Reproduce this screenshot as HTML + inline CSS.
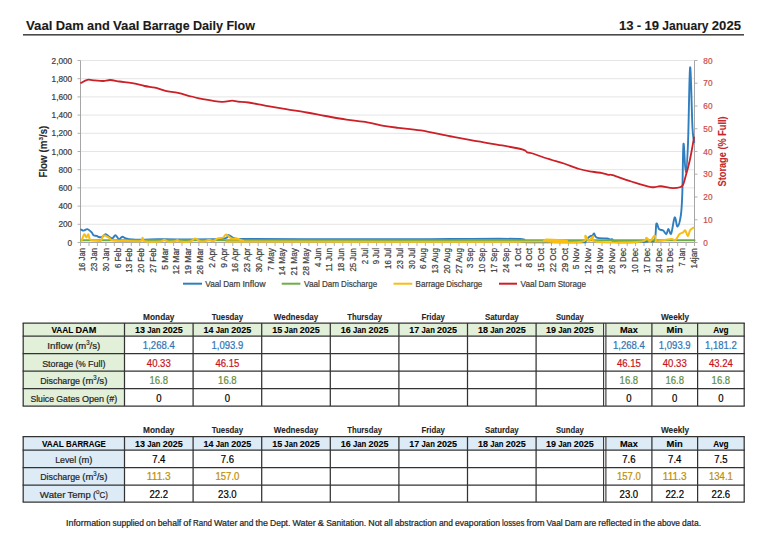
<!DOCTYPE html>
<html><head><meta charset="utf-8"><style>
html,body{margin:0;padding:0;background:#fff;}
body{width:768px;height:546px;overflow:hidden;}
svg{display:block;font-family:"Liberation Sans",sans-serif;}
</style></head><body>
<svg width="768" height="546" viewBox="0 0 768 546">
<rect width="768" height="546" fill="#fff"/>
<text x="26.00" y="30.00" font-size="13.08" font-weight="bold" fill="#1a1a1a" stroke="#1a1a1a" stroke-width="0.1" text-anchor="start" textLength="26.42" lengthAdjust="spacingAndGlyphs">Vaal</text>
<text x="55.69" y="30.00" font-size="13.08" font-weight="bold" fill="#1a1a1a" stroke="#1a1a1a" stroke-width="0.1" text-anchor="start" textLength="28.09" lengthAdjust="spacingAndGlyphs">Dam</text>
<text x="87.05" y="30.00" font-size="13.08" font-weight="bold" fill="#1a1a1a" stroke="#1a1a1a" stroke-width="0.1" text-anchor="start" textLength="22.69" lengthAdjust="spacingAndGlyphs">and</text>
<text x="113.01" y="30.00" font-size="13.08" font-weight="bold" fill="#1a1a1a" stroke="#1a1a1a" stroke-width="0.1" text-anchor="start" textLength="26.42" lengthAdjust="spacingAndGlyphs">Vaal</text>
<text x="142.70" y="30.00" font-size="13.08" font-weight="bold" fill="#1a1a1a" stroke="#1a1a1a" stroke-width="0.1" text-anchor="start" textLength="46.91" lengthAdjust="spacingAndGlyphs">Barrage</text>
<text x="192.88" y="30.00" font-size="13.08" font-weight="bold" fill="#1a1a1a" stroke="#1a1a1a" stroke-width="0.1" text-anchor="start" textLength="30.25" lengthAdjust="spacingAndGlyphs">Daily</text>
<text x="226.40" y="30.00" font-size="13.08" font-weight="bold" fill="#1a1a1a" stroke="#1a1a1a" stroke-width="0.1" text-anchor="start" textLength="28.54" lengthAdjust="spacingAndGlyphs">Flow</text>
<text x="618.97" y="30.00" font-size="13.08" font-weight="bold" fill="#1a1a1a" stroke="#1a1a1a" stroke-width="0.1" text-anchor="start" textLength="14.60" lengthAdjust="spacingAndGlyphs">13</text>
<text x="636.83" y="30.00" font-size="13.08" font-weight="bold" fill="#1a1a1a" stroke="#1a1a1a" stroke-width="0.1" text-anchor="start" textLength="4.41" lengthAdjust="spacingAndGlyphs">-</text>
<text x="644.49" y="30.00" font-size="13.08" font-weight="bold" fill="#1a1a1a" stroke="#1a1a1a" stroke-width="0.1" text-anchor="start" textLength="14.60" lengthAdjust="spacingAndGlyphs">19</text>
<text x="662.34" y="30.00" font-size="13.08" font-weight="bold" fill="#1a1a1a" stroke="#1a1a1a" stroke-width="0.1" text-anchor="start" textLength="46.21" lengthAdjust="spacingAndGlyphs">January</text>
<text x="711.81" y="30.00" font-size="13.08" font-weight="bold" fill="#1a1a1a" stroke="#1a1a1a" stroke-width="0.1" text-anchor="start" textLength="29.19" lengthAdjust="spacingAndGlyphs">2025</text>
<rect x="23" y="34" width="721" height="1.6" fill="#4a4a4a"/>
<line x1="80.5" y1="224.3" x2="694.5" y2="224.3" stroke="#e2e2e2" stroke-width="0.9"/>
<line x1="80.5" y1="206.1" x2="694.5" y2="206.1" stroke="#e2e2e2" stroke-width="0.9"/>
<line x1="80.5" y1="187.9" x2="694.5" y2="187.9" stroke="#e2e2e2" stroke-width="0.9"/>
<line x1="80.5" y1="169.7" x2="694.5" y2="169.7" stroke="#e2e2e2" stroke-width="0.9"/>
<line x1="80.5" y1="151.5" x2="694.5" y2="151.5" stroke="#e2e2e2" stroke-width="0.9"/>
<line x1="80.5" y1="133.3" x2="694.5" y2="133.3" stroke="#e2e2e2" stroke-width="0.9"/>
<line x1="80.5" y1="115.1" x2="694.5" y2="115.1" stroke="#e2e2e2" stroke-width="0.9"/>
<line x1="80.5" y1="96.9" x2="694.5" y2="96.9" stroke="#e2e2e2" stroke-width="0.9"/>
<line x1="80.5" y1="78.7" x2="694.5" y2="78.7" stroke="#e2e2e2" stroke-width="0.9"/>
<line x1="80.5" y1="60.5" x2="694.5" y2="60.5" stroke="#e2e2e2" stroke-width="0.9"/>
<line x1="80.5" y1="60.5" x2="80.5" y2="242.5" stroke="#a6a6a6" stroke-width="1"/>
<line x1="694.5" y1="60.5" x2="694.5" y2="242.5" stroke="#a6a6a6" stroke-width="1"/>
<line x1="80.5" y1="242.5" x2="694.5" y2="242.5" stroke="#a6a6a6" stroke-width="1"/>
<line x1="77.5" y1="242.5" x2="80.5" y2="242.5" stroke="#a6a6a6" stroke-width="0.9"/>
<text x="72.20" y="245.50" font-size="8.72" font-weight="normal" fill="#404040" stroke="#404040" stroke-width="0.22" text-anchor="end" textLength="4.59" lengthAdjust="spacingAndGlyphs">0</text>
<line x1="77.5" y1="224.3" x2="80.5" y2="224.3" stroke="#a6a6a6" stroke-width="0.9"/>
<text x="72.20" y="227.30" font-size="8.72" font-weight="normal" fill="#404040" stroke="#404040" stroke-width="0.22" text-anchor="end" textLength="13.76" lengthAdjust="spacingAndGlyphs">200</text>
<line x1="77.5" y1="206.1" x2="80.5" y2="206.1" stroke="#a6a6a6" stroke-width="0.9"/>
<text x="72.20" y="209.10" font-size="8.72" font-weight="normal" fill="#404040" stroke="#404040" stroke-width="0.22" text-anchor="end" textLength="13.76" lengthAdjust="spacingAndGlyphs">400</text>
<line x1="77.5" y1="187.9" x2="80.5" y2="187.9" stroke="#a6a6a6" stroke-width="0.9"/>
<text x="72.20" y="190.90" font-size="8.72" font-weight="normal" fill="#404040" stroke="#404040" stroke-width="0.22" text-anchor="end" textLength="13.76" lengthAdjust="spacingAndGlyphs">600</text>
<line x1="77.5" y1="169.7" x2="80.5" y2="169.7" stroke="#a6a6a6" stroke-width="0.9"/>
<text x="72.20" y="172.70" font-size="8.72" font-weight="normal" fill="#404040" stroke="#404040" stroke-width="0.22" text-anchor="end" textLength="13.76" lengthAdjust="spacingAndGlyphs">800</text>
<line x1="77.5" y1="151.5" x2="80.5" y2="151.5" stroke="#a6a6a6" stroke-width="0.9"/>
<text x="72.20" y="154.50" font-size="8.72" font-weight="normal" fill="#404040" stroke="#404040" stroke-width="0.22" text-anchor="end" textLength="20.61" lengthAdjust="spacingAndGlyphs">1,000</text>
<line x1="77.5" y1="133.3" x2="80.5" y2="133.3" stroke="#a6a6a6" stroke-width="0.9"/>
<text x="72.20" y="136.30" font-size="8.72" font-weight="normal" fill="#404040" stroke="#404040" stroke-width="0.22" text-anchor="end" textLength="20.61" lengthAdjust="spacingAndGlyphs">1,200</text>
<line x1="77.5" y1="115.1" x2="80.5" y2="115.1" stroke="#a6a6a6" stroke-width="0.9"/>
<text x="72.20" y="118.10" font-size="8.72" font-weight="normal" fill="#404040" stroke="#404040" stroke-width="0.22" text-anchor="end" textLength="20.61" lengthAdjust="spacingAndGlyphs">1,400</text>
<line x1="77.5" y1="96.9" x2="80.5" y2="96.9" stroke="#a6a6a6" stroke-width="0.9"/>
<text x="72.20" y="99.90" font-size="8.72" font-weight="normal" fill="#404040" stroke="#404040" stroke-width="0.22" text-anchor="end" textLength="20.61" lengthAdjust="spacingAndGlyphs">1,600</text>
<line x1="77.5" y1="78.7" x2="80.5" y2="78.7" stroke="#a6a6a6" stroke-width="0.9"/>
<text x="72.20" y="81.70" font-size="8.72" font-weight="normal" fill="#404040" stroke="#404040" stroke-width="0.22" text-anchor="end" textLength="20.61" lengthAdjust="spacingAndGlyphs">1,800</text>
<line x1="77.5" y1="60.5" x2="80.5" y2="60.5" stroke="#a6a6a6" stroke-width="0.9"/>
<text x="72.20" y="63.50" font-size="8.72" font-weight="normal" fill="#404040" stroke="#404040" stroke-width="0.22" text-anchor="end" textLength="20.61" lengthAdjust="spacingAndGlyphs">2,000</text>
<line x1="694.5" y1="242.5" x2="697.5" y2="242.5" stroke="#a6a6a6" stroke-width="0.9"/>
<text x="703.30" y="245.50" font-size="8.72" font-weight="normal" fill="#cc4d4d" stroke="#cc4d4d" stroke-width="0.22" text-anchor="start" textLength="4.59" lengthAdjust="spacingAndGlyphs">0</text>
<line x1="694.5" y1="219.8" x2="697.5" y2="219.8" stroke="#a6a6a6" stroke-width="0.9"/>
<text x="703.30" y="222.75" font-size="8.72" font-weight="normal" fill="#cc4d4d" stroke="#cc4d4d" stroke-width="0.22" text-anchor="start" textLength="9.17" lengthAdjust="spacingAndGlyphs">10</text>
<line x1="694.5" y1="197.0" x2="697.5" y2="197.0" stroke="#a6a6a6" stroke-width="0.9"/>
<text x="703.30" y="200.00" font-size="8.72" font-weight="normal" fill="#cc4d4d" stroke="#cc4d4d" stroke-width="0.22" text-anchor="start" textLength="9.17" lengthAdjust="spacingAndGlyphs">20</text>
<line x1="694.5" y1="174.2" x2="697.5" y2="174.2" stroke="#a6a6a6" stroke-width="0.9"/>
<text x="703.30" y="177.25" font-size="8.72" font-weight="normal" fill="#cc4d4d" stroke="#cc4d4d" stroke-width="0.22" text-anchor="start" textLength="9.17" lengthAdjust="spacingAndGlyphs">30</text>
<line x1="694.5" y1="151.5" x2="697.5" y2="151.5" stroke="#a6a6a6" stroke-width="0.9"/>
<text x="703.30" y="154.50" font-size="8.72" font-weight="normal" fill="#cc4d4d" stroke="#cc4d4d" stroke-width="0.22" text-anchor="start" textLength="9.17" lengthAdjust="spacingAndGlyphs">40</text>
<line x1="694.5" y1="128.8" x2="697.5" y2="128.8" stroke="#a6a6a6" stroke-width="0.9"/>
<text x="703.30" y="131.75" font-size="8.72" font-weight="normal" fill="#cc4d4d" stroke="#cc4d4d" stroke-width="0.22" text-anchor="start" textLength="9.17" lengthAdjust="spacingAndGlyphs">50</text>
<line x1="694.5" y1="106.0" x2="697.5" y2="106.0" stroke="#a6a6a6" stroke-width="0.9"/>
<text x="703.30" y="109.00" font-size="8.72" font-weight="normal" fill="#cc4d4d" stroke="#cc4d4d" stroke-width="0.22" text-anchor="start" textLength="9.17" lengthAdjust="spacingAndGlyphs">60</text>
<line x1="694.5" y1="83.2" x2="697.5" y2="83.2" stroke="#a6a6a6" stroke-width="0.9"/>
<text x="703.30" y="86.25" font-size="8.72" font-weight="normal" fill="#cc4d4d" stroke="#cc4d4d" stroke-width="0.22" text-anchor="start" textLength="9.17" lengthAdjust="spacingAndGlyphs">70</text>
<line x1="694.5" y1="60.5" x2="697.5" y2="60.5" stroke="#a6a6a6" stroke-width="0.9"/>
<text x="703.30" y="63.50" font-size="8.72" font-weight="normal" fill="#cc4d4d" stroke="#cc4d4d" stroke-width="0.22" text-anchor="start" textLength="9.17" lengthAdjust="spacingAndGlyphs">80</text>
<line x1="80.5" y1="242.5" x2="80.5" y2="246.0" stroke="#a6a6a6" stroke-width="0.9"/>
<line x1="89.0" y1="242.5" x2="89.0" y2="246.0" stroke="#a6a6a6" stroke-width="0.9"/>
<line x1="97.4" y1="242.5" x2="97.4" y2="246.0" stroke="#a6a6a6" stroke-width="0.9"/>
<line x1="105.9" y1="242.5" x2="105.9" y2="246.0" stroke="#a6a6a6" stroke-width="0.9"/>
<line x1="114.3" y1="242.5" x2="114.3" y2="246.0" stroke="#a6a6a6" stroke-width="0.9"/>
<line x1="122.8" y1="242.5" x2="122.8" y2="246.0" stroke="#a6a6a6" stroke-width="0.9"/>
<line x1="131.3" y1="242.5" x2="131.3" y2="246.0" stroke="#a6a6a6" stroke-width="0.9"/>
<line x1="139.7" y1="242.5" x2="139.7" y2="246.0" stroke="#a6a6a6" stroke-width="0.9"/>
<line x1="148.2" y1="242.5" x2="148.2" y2="246.0" stroke="#a6a6a6" stroke-width="0.9"/>
<line x1="156.6" y1="242.5" x2="156.6" y2="246.0" stroke="#a6a6a6" stroke-width="0.9"/>
<line x1="165.1" y1="242.5" x2="165.1" y2="246.0" stroke="#a6a6a6" stroke-width="0.9"/>
<line x1="173.6" y1="242.5" x2="173.6" y2="246.0" stroke="#a6a6a6" stroke-width="0.9"/>
<line x1="182.0" y1="242.5" x2="182.0" y2="246.0" stroke="#a6a6a6" stroke-width="0.9"/>
<line x1="190.5" y1="242.5" x2="190.5" y2="246.0" stroke="#a6a6a6" stroke-width="0.9"/>
<line x1="198.9" y1="242.5" x2="198.9" y2="246.0" stroke="#a6a6a6" stroke-width="0.9"/>
<line x1="207.4" y1="242.5" x2="207.4" y2="246.0" stroke="#a6a6a6" stroke-width="0.9"/>
<line x1="215.9" y1="242.5" x2="215.9" y2="246.0" stroke="#a6a6a6" stroke-width="0.9"/>
<line x1="224.3" y1="242.5" x2="224.3" y2="246.0" stroke="#a6a6a6" stroke-width="0.9"/>
<line x1="232.8" y1="242.5" x2="232.8" y2="246.0" stroke="#a6a6a6" stroke-width="0.9"/>
<line x1="241.2" y1="242.5" x2="241.2" y2="246.0" stroke="#a6a6a6" stroke-width="0.9"/>
<line x1="249.7" y1="242.5" x2="249.7" y2="246.0" stroke="#a6a6a6" stroke-width="0.9"/>
<line x1="258.2" y1="242.5" x2="258.2" y2="246.0" stroke="#a6a6a6" stroke-width="0.9"/>
<line x1="266.6" y1="242.5" x2="266.6" y2="246.0" stroke="#a6a6a6" stroke-width="0.9"/>
<line x1="275.1" y1="242.5" x2="275.1" y2="246.0" stroke="#a6a6a6" stroke-width="0.9"/>
<line x1="283.5" y1="242.5" x2="283.5" y2="246.0" stroke="#a6a6a6" stroke-width="0.9"/>
<line x1="292.0" y1="242.5" x2="292.0" y2="246.0" stroke="#a6a6a6" stroke-width="0.9"/>
<line x1="300.5" y1="242.5" x2="300.5" y2="246.0" stroke="#a6a6a6" stroke-width="0.9"/>
<line x1="308.9" y1="242.5" x2="308.9" y2="246.0" stroke="#a6a6a6" stroke-width="0.9"/>
<line x1="317.4" y1="242.5" x2="317.4" y2="246.0" stroke="#a6a6a6" stroke-width="0.9"/>
<line x1="325.8" y1="242.5" x2="325.8" y2="246.0" stroke="#a6a6a6" stroke-width="0.9"/>
<line x1="334.3" y1="242.5" x2="334.3" y2="246.0" stroke="#a6a6a6" stroke-width="0.9"/>
<line x1="342.8" y1="242.5" x2="342.8" y2="246.0" stroke="#a6a6a6" stroke-width="0.9"/>
<line x1="351.2" y1="242.5" x2="351.2" y2="246.0" stroke="#a6a6a6" stroke-width="0.9"/>
<line x1="359.7" y1="242.5" x2="359.7" y2="246.0" stroke="#a6a6a6" stroke-width="0.9"/>
<line x1="368.1" y1="242.5" x2="368.1" y2="246.0" stroke="#a6a6a6" stroke-width="0.9"/>
<line x1="376.6" y1="242.5" x2="376.6" y2="246.0" stroke="#a6a6a6" stroke-width="0.9"/>
<line x1="385.1" y1="242.5" x2="385.1" y2="246.0" stroke="#a6a6a6" stroke-width="0.9"/>
<line x1="694.5" y1="242.5" x2="694.5" y2="246.0" stroke="#a6a6a6" stroke-width="0.9"/>
<line x1="686.1" y1="242.5" x2="686.1" y2="246.0" stroke="#a6a6a6" stroke-width="0.9"/>
<line x1="677.7" y1="242.5" x2="677.7" y2="246.0" stroke="#a6a6a6" stroke-width="0.9"/>
<line x1="669.3" y1="242.5" x2="669.3" y2="246.0" stroke="#a6a6a6" stroke-width="0.9"/>
<line x1="660.9" y1="242.5" x2="660.9" y2="246.0" stroke="#a6a6a6" stroke-width="0.9"/>
<line x1="652.5" y1="242.5" x2="652.5" y2="246.0" stroke="#a6a6a6" stroke-width="0.9"/>
<line x1="644.0" y1="242.5" x2="644.0" y2="246.0" stroke="#a6a6a6" stroke-width="0.9"/>
<line x1="635.6" y1="242.5" x2="635.6" y2="246.0" stroke="#a6a6a6" stroke-width="0.9"/>
<line x1="627.2" y1="242.5" x2="627.2" y2="246.0" stroke="#a6a6a6" stroke-width="0.9"/>
<line x1="618.8" y1="242.5" x2="618.8" y2="246.0" stroke="#a6a6a6" stroke-width="0.9"/>
<line x1="610.4" y1="242.5" x2="610.4" y2="246.0" stroke="#a6a6a6" stroke-width="0.9"/>
<line x1="602.0" y1="242.5" x2="602.0" y2="246.0" stroke="#a6a6a6" stroke-width="0.9"/>
<line x1="593.6" y1="242.5" x2="593.6" y2="246.0" stroke="#a6a6a6" stroke-width="0.9"/>
<line x1="585.2" y1="242.5" x2="585.2" y2="246.0" stroke="#a6a6a6" stroke-width="0.9"/>
<line x1="576.8" y1="242.5" x2="576.8" y2="246.0" stroke="#a6a6a6" stroke-width="0.9"/>
<line x1="568.4" y1="242.5" x2="568.4" y2="246.0" stroke="#a6a6a6" stroke-width="0.9"/>
<line x1="559.9" y1="242.5" x2="559.9" y2="246.0" stroke="#a6a6a6" stroke-width="0.9"/>
<line x1="551.5" y1="242.5" x2="551.5" y2="246.0" stroke="#a6a6a6" stroke-width="0.9"/>
<line x1="543.1" y1="242.5" x2="543.1" y2="246.0" stroke="#a6a6a6" stroke-width="0.9"/>
<line x1="534.7" y1="242.5" x2="534.7" y2="246.0" stroke="#a6a6a6" stroke-width="0.9"/>
<line x1="526.3" y1="242.5" x2="526.3" y2="246.0" stroke="#a6a6a6" stroke-width="0.9"/>
<line x1="517.9" y1="242.5" x2="517.9" y2="246.0" stroke="#a6a6a6" stroke-width="0.9"/>
<line x1="509.5" y1="242.5" x2="509.5" y2="246.0" stroke="#a6a6a6" stroke-width="0.9"/>
<line x1="501.1" y1="242.5" x2="501.1" y2="246.0" stroke="#a6a6a6" stroke-width="0.9"/>
<line x1="492.7" y1="242.5" x2="492.7" y2="246.0" stroke="#a6a6a6" stroke-width="0.9"/>
<line x1="484.2" y1="242.5" x2="484.2" y2="246.0" stroke="#a6a6a6" stroke-width="0.9"/>
<line x1="475.8" y1="242.5" x2="475.8" y2="246.0" stroke="#a6a6a6" stroke-width="0.9"/>
<line x1="467.4" y1="242.5" x2="467.4" y2="246.0" stroke="#a6a6a6" stroke-width="0.9"/>
<line x1="459.0" y1="242.5" x2="459.0" y2="246.0" stroke="#a6a6a6" stroke-width="0.9"/>
<line x1="450.6" y1="242.5" x2="450.6" y2="246.0" stroke="#a6a6a6" stroke-width="0.9"/>
<line x1="442.2" y1="242.5" x2="442.2" y2="246.0" stroke="#a6a6a6" stroke-width="0.9"/>
<line x1="433.8" y1="242.5" x2="433.8" y2="246.0" stroke="#a6a6a6" stroke-width="0.9"/>
<line x1="425.4" y1="242.5" x2="425.4" y2="246.0" stroke="#a6a6a6" stroke-width="0.9"/>
<line x1="417.0" y1="242.5" x2="417.0" y2="246.0" stroke="#a6a6a6" stroke-width="0.9"/>
<line x1="408.6" y1="242.5" x2="408.6" y2="246.0" stroke="#a6a6a6" stroke-width="0.9"/>
<line x1="400.1" y1="242.5" x2="400.1" y2="246.0" stroke="#a6a6a6" stroke-width="0.9"/>
<line x1="391.7" y1="242.5" x2="391.7" y2="246.0" stroke="#a6a6a6" stroke-width="0.9"/>
<g transform="translate(85.40,248) rotate(-90)">
<text x="0.00" y="0.00" font-size="8.72" font-weight="normal" fill="#404040" stroke="#404040" stroke-width="0.22" text-anchor="end" textLength="23.20" lengthAdjust="spacingAndGlyphs">16 Jan</text>
</g>
<g transform="translate(97.16,248) rotate(-90)">
<text x="0.00" y="0.00" font-size="8.72" font-weight="normal" fill="#404040" stroke="#404040" stroke-width="0.22" text-anchor="end" textLength="23.20" lengthAdjust="spacingAndGlyphs">23 Jan</text>
</g>
<g transform="translate(108.92,248) rotate(-90)">
<text x="0.00" y="0.00" font-size="8.72" font-weight="normal" fill="#404040" stroke="#404040" stroke-width="0.22" text-anchor="end" textLength="23.20" lengthAdjust="spacingAndGlyphs">30 Jan</text>
</g>
<g transform="translate(120.68,248) rotate(-90)">
<text x="0.00" y="0.00" font-size="8.72" font-weight="normal" fill="#404040" stroke="#404040" stroke-width="0.22" text-anchor="end" textLength="20.05" lengthAdjust="spacingAndGlyphs">6 Feb</text>
</g>
<g transform="translate(132.44,248) rotate(-90)">
<text x="0.00" y="0.00" font-size="8.72" font-weight="normal" fill="#404040" stroke="#404040" stroke-width="0.22" text-anchor="end" textLength="24.64" lengthAdjust="spacingAndGlyphs">13 Feb</text>
</g>
<g transform="translate(144.20,248) rotate(-90)">
<text x="0.00" y="0.00" font-size="8.72" font-weight="normal" fill="#404040" stroke="#404040" stroke-width="0.22" text-anchor="end" textLength="24.64" lengthAdjust="spacingAndGlyphs">20 Feb</text>
</g>
<g transform="translate(155.96,248) rotate(-90)">
<text x="0.00" y="0.00" font-size="8.72" font-weight="normal" fill="#404040" stroke="#404040" stroke-width="0.22" text-anchor="end" textLength="24.64" lengthAdjust="spacingAndGlyphs">27 Feb</text>
</g>
<g transform="translate(167.72,248) rotate(-90)">
<text x="0.00" y="0.00" font-size="8.72" font-weight="normal" fill="#404040" stroke="#404040" stroke-width="0.22" text-anchor="end" textLength="21.86" lengthAdjust="spacingAndGlyphs">5 Mar</text>
</g>
<g transform="translate(179.48,248) rotate(-90)">
<text x="0.00" y="0.00" font-size="8.72" font-weight="normal" fill="#404040" stroke="#404040" stroke-width="0.22" text-anchor="end" textLength="26.45" lengthAdjust="spacingAndGlyphs">12 Mar</text>
</g>
<g transform="translate(191.24,248) rotate(-90)">
<text x="0.00" y="0.00" font-size="8.72" font-weight="normal" fill="#404040" stroke="#404040" stroke-width="0.22" text-anchor="end" textLength="26.45" lengthAdjust="spacingAndGlyphs">19 Mar</text>
</g>
<g transform="translate(203.00,248) rotate(-90)">
<text x="0.00" y="0.00" font-size="8.72" font-weight="normal" fill="#404040" stroke="#404040" stroke-width="0.22" text-anchor="end" textLength="26.45" lengthAdjust="spacingAndGlyphs">26 Mar</text>
</g>
<g transform="translate(214.76,248) rotate(-90)">
<text x="0.00" y="0.00" font-size="8.72" font-weight="normal" fill="#404040" stroke="#404040" stroke-width="0.22" text-anchor="end" textLength="19.78" lengthAdjust="spacingAndGlyphs">2 Apr</text>
</g>
<g transform="translate(226.52,248) rotate(-90)">
<text x="0.00" y="0.00" font-size="8.72" font-weight="normal" fill="#404040" stroke="#404040" stroke-width="0.22" text-anchor="end" textLength="19.78" lengthAdjust="spacingAndGlyphs">9 Apr</text>
</g>
<g transform="translate(238.28,248) rotate(-90)">
<text x="0.00" y="0.00" font-size="8.72" font-weight="normal" fill="#404040" stroke="#404040" stroke-width="0.22" text-anchor="end" textLength="24.37" lengthAdjust="spacingAndGlyphs">16 Apr</text>
</g>
<g transform="translate(250.04,248) rotate(-90)">
<text x="0.00" y="0.00" font-size="8.72" font-weight="normal" fill="#404040" stroke="#404040" stroke-width="0.22" text-anchor="end" textLength="24.37" lengthAdjust="spacingAndGlyphs">23 Apr</text>
</g>
<g transform="translate(261.80,248) rotate(-90)">
<text x="0.00" y="0.00" font-size="8.72" font-weight="normal" fill="#404040" stroke="#404040" stroke-width="0.22" text-anchor="end" textLength="24.37" lengthAdjust="spacingAndGlyphs">30 Apr</text>
</g>
<g transform="translate(273.56,248) rotate(-90)">
<text x="0.00" y="0.00" font-size="8.72" font-weight="normal" fill="#404040" stroke="#404040" stroke-width="0.22" text-anchor="end" textLength="22.80" lengthAdjust="spacingAndGlyphs">7 May</text>
</g>
<g transform="translate(285.32,248) rotate(-90)">
<text x="0.00" y="0.00" font-size="8.72" font-weight="normal" fill="#404040" stroke="#404040" stroke-width="0.22" text-anchor="end" textLength="27.39" lengthAdjust="spacingAndGlyphs">14 May</text>
</g>
<g transform="translate(297.08,248) rotate(-90)">
<text x="0.00" y="0.00" font-size="8.72" font-weight="normal" fill="#404040" stroke="#404040" stroke-width="0.22" text-anchor="end" textLength="27.39" lengthAdjust="spacingAndGlyphs">21 May</text>
</g>
<g transform="translate(308.84,248) rotate(-90)">
<text x="0.00" y="0.00" font-size="8.72" font-weight="normal" fill="#404040" stroke="#404040" stroke-width="0.22" text-anchor="end" textLength="27.39" lengthAdjust="spacingAndGlyphs">28 May</text>
</g>
<g transform="translate(320.60,248) rotate(-90)">
<text x="0.00" y="0.00" font-size="8.72" font-weight="normal" fill="#404040" stroke="#404040" stroke-width="0.22" text-anchor="end" textLength="19.03" lengthAdjust="spacingAndGlyphs">4 Jun</text>
</g>
<g transform="translate(332.36,248) rotate(-90)">
<text x="0.00" y="0.00" font-size="8.72" font-weight="normal" fill="#404040" stroke="#404040" stroke-width="0.22" text-anchor="end" textLength="23.61" lengthAdjust="spacingAndGlyphs">11 Jun</text>
</g>
<g transform="translate(344.12,248) rotate(-90)">
<text x="0.00" y="0.00" font-size="8.72" font-weight="normal" fill="#404040" stroke="#404040" stroke-width="0.22" text-anchor="end" textLength="23.61" lengthAdjust="spacingAndGlyphs">18 Jun</text>
</g>
<g transform="translate(355.88,248) rotate(-90)">
<text x="0.00" y="0.00" font-size="8.72" font-weight="normal" fill="#404040" stroke="#404040" stroke-width="0.22" text-anchor="end" textLength="23.61" lengthAdjust="spacingAndGlyphs">25 Jun</text>
</g>
<g transform="translate(367.64,248) rotate(-90)">
<text x="0.00" y="0.00" font-size="8.72" font-weight="normal" fill="#404040" stroke="#404040" stroke-width="0.22" text-anchor="end" textLength="16.35" lengthAdjust="spacingAndGlyphs">2 Jul</text>
</g>
<g transform="translate(379.40,248) rotate(-90)">
<text x="0.00" y="0.00" font-size="8.72" font-weight="normal" fill="#404040" stroke="#404040" stroke-width="0.22" text-anchor="end" textLength="16.35" lengthAdjust="spacingAndGlyphs">9 Jul</text>
</g>
<g transform="translate(391.16,248) rotate(-90)">
<text x="0.00" y="0.00" font-size="8.72" font-weight="normal" fill="#404040" stroke="#404040" stroke-width="0.22" text-anchor="end" textLength="20.94" lengthAdjust="spacingAndGlyphs">16 Jul</text>
</g>
<g transform="translate(402.92,248) rotate(-90)">
<text x="0.00" y="0.00" font-size="8.72" font-weight="normal" fill="#404040" stroke="#404040" stroke-width="0.22" text-anchor="end" textLength="20.94" lengthAdjust="spacingAndGlyphs">23 Jul</text>
</g>
<g transform="translate(414.68,248) rotate(-90)">
<text x="0.00" y="0.00" font-size="8.72" font-weight="normal" fill="#404040" stroke="#404040" stroke-width="0.22" text-anchor="end" textLength="20.94" lengthAdjust="spacingAndGlyphs">30 Jul</text>
</g>
<g transform="translate(426.44,248) rotate(-90)">
<text x="0.00" y="0.00" font-size="8.72" font-weight="normal" fill="#404040" stroke="#404040" stroke-width="0.22" text-anchor="end" textLength="20.88" lengthAdjust="spacingAndGlyphs">6 Aug</text>
</g>
<g transform="translate(438.20,248) rotate(-90)">
<text x="0.00" y="0.00" font-size="8.72" font-weight="normal" fill="#404040" stroke="#404040" stroke-width="0.22" text-anchor="end" textLength="25.47" lengthAdjust="spacingAndGlyphs">13 Aug</text>
</g>
<g transform="translate(449.96,248) rotate(-90)">
<text x="0.00" y="0.00" font-size="8.72" font-weight="normal" fill="#404040" stroke="#404040" stroke-width="0.22" text-anchor="end" textLength="25.47" lengthAdjust="spacingAndGlyphs">20 Aug</text>
</g>
<g transform="translate(461.72,248) rotate(-90)">
<text x="0.00" y="0.00" font-size="8.72" font-weight="normal" fill="#404040" stroke="#404040" stroke-width="0.22" text-anchor="end" textLength="25.47" lengthAdjust="spacingAndGlyphs">27 Aug</text>
</g>
<g transform="translate(473.48,248) rotate(-90)">
<text x="0.00" y="0.00" font-size="8.72" font-weight="normal" fill="#404040" stroke="#404040" stroke-width="0.22" text-anchor="end" textLength="20.05" lengthAdjust="spacingAndGlyphs">3 Sep</text>
</g>
<g transform="translate(485.24,248) rotate(-90)">
<text x="0.00" y="0.00" font-size="8.72" font-weight="normal" fill="#404040" stroke="#404040" stroke-width="0.22" text-anchor="end" textLength="24.64" lengthAdjust="spacingAndGlyphs">10 Sep</text>
</g>
<g transform="translate(497.00,248) rotate(-90)">
<text x="0.00" y="0.00" font-size="8.72" font-weight="normal" fill="#404040" stroke="#404040" stroke-width="0.22" text-anchor="end" textLength="24.64" lengthAdjust="spacingAndGlyphs">17 Sep</text>
</g>
<g transform="translate(508.76,248) rotate(-90)">
<text x="0.00" y="0.00" font-size="8.72" font-weight="normal" fill="#404040" stroke="#404040" stroke-width="0.22" text-anchor="end" textLength="24.64" lengthAdjust="spacingAndGlyphs">24 Sep</text>
</g>
<g transform="translate(520.52,248) rotate(-90)">
<text x="0.00" y="0.00" font-size="8.72" font-weight="normal" fill="#404040" stroke="#404040" stroke-width="0.22" text-anchor="end" textLength="19.48" lengthAdjust="spacingAndGlyphs">1 Oct</text>
</g>
<g transform="translate(532.28,248) rotate(-90)">
<text x="0.00" y="0.00" font-size="8.72" font-weight="normal" fill="#404040" stroke="#404040" stroke-width="0.22" text-anchor="end" textLength="19.48" lengthAdjust="spacingAndGlyphs">8 Oct</text>
</g>
<g transform="translate(544.04,248) rotate(-90)">
<text x="0.00" y="0.00" font-size="8.72" font-weight="normal" fill="#404040" stroke="#404040" stroke-width="0.22" text-anchor="end" textLength="24.07" lengthAdjust="spacingAndGlyphs">15 Oct</text>
</g>
<g transform="translate(555.80,248) rotate(-90)">
<text x="0.00" y="0.00" font-size="8.72" font-weight="normal" fill="#404040" stroke="#404040" stroke-width="0.22" text-anchor="end" textLength="24.07" lengthAdjust="spacingAndGlyphs">22 Oct</text>
</g>
<g transform="translate(567.56,248) rotate(-90)">
<text x="0.00" y="0.00" font-size="8.72" font-weight="normal" fill="#404040" stroke="#404040" stroke-width="0.22" text-anchor="end" textLength="24.07" lengthAdjust="spacingAndGlyphs">29 Oct</text>
</g>
<g transform="translate(579.32,248) rotate(-90)">
<text x="0.00" y="0.00" font-size="8.72" font-weight="normal" fill="#404040" stroke="#404040" stroke-width="0.22" text-anchor="end" textLength="21.33" lengthAdjust="spacingAndGlyphs">5 Nov</text>
</g>
<g transform="translate(591.08,248) rotate(-90)">
<text x="0.00" y="0.00" font-size="8.72" font-weight="normal" fill="#404040" stroke="#404040" stroke-width="0.22" text-anchor="end" textLength="25.92" lengthAdjust="spacingAndGlyphs">12 Nov</text>
</g>
<g transform="translate(602.84,248) rotate(-90)">
<text x="0.00" y="0.00" font-size="8.72" font-weight="normal" fill="#404040" stroke="#404040" stroke-width="0.22" text-anchor="end" textLength="25.92" lengthAdjust="spacingAndGlyphs">19 Nov</text>
</g>
<g transform="translate(614.60,248) rotate(-90)">
<text x="0.00" y="0.00" font-size="8.72" font-weight="normal" fill="#404040" stroke="#404040" stroke-width="0.22" text-anchor="end" textLength="25.92" lengthAdjust="spacingAndGlyphs">26 Nov</text>
</g>
<g transform="translate(626.36,248) rotate(-90)">
<text x="0.00" y="0.00" font-size="8.72" font-weight="normal" fill="#404040" stroke="#404040" stroke-width="0.22" text-anchor="end" textLength="20.53" lengthAdjust="spacingAndGlyphs">3 Dec</text>
</g>
<g transform="translate(638.12,248) rotate(-90)">
<text x="0.00" y="0.00" font-size="8.72" font-weight="normal" fill="#404040" stroke="#404040" stroke-width="0.22" text-anchor="end" textLength="25.12" lengthAdjust="spacingAndGlyphs">10 Dec</text>
</g>
<g transform="translate(649.88,248) rotate(-90)">
<text x="0.00" y="0.00" font-size="8.72" font-weight="normal" fill="#404040" stroke="#404040" stroke-width="0.22" text-anchor="end" textLength="25.12" lengthAdjust="spacingAndGlyphs">17 Dec</text>
</g>
<g transform="translate(661.64,248) rotate(-90)">
<text x="0.00" y="0.00" font-size="8.72" font-weight="normal" fill="#404040" stroke="#404040" stroke-width="0.22" text-anchor="end" textLength="25.12" lengthAdjust="spacingAndGlyphs">24 Dec</text>
</g>
<g transform="translate(673.40,248) rotate(-90)">
<text x="0.00" y="0.00" font-size="8.72" font-weight="normal" fill="#404040" stroke="#404040" stroke-width="0.22" text-anchor="end" textLength="25.12" lengthAdjust="spacingAndGlyphs">31 Dec</text>
</g>
<g transform="translate(685.16,248) rotate(-90)">
<text x="0.00" y="0.00" font-size="8.72" font-weight="normal" fill="#404040" stroke="#404040" stroke-width="0.22" text-anchor="end" textLength="18.61" lengthAdjust="spacingAndGlyphs">7 Jan</text>
</g>
<g transform="translate(696.92,248) rotate(-90)">
<text x="0.00" y="0.00" font-size="8.72" font-weight="normal" fill="#404040" stroke="#404040" stroke-width="0.22" text-anchor="end" textLength="20.43" lengthAdjust="spacingAndGlyphs">14jan</text>
</g>
<g transform="translate(46.5,151.6) rotate(-90)">
<text x="-26.00" y="0.00" font-size="10.17" font-weight="bold" fill="#262626" stroke="#262626" stroke-width="0.1" text-anchor="start" textLength="37.03" lengthAdjust="spacingAndGlyphs">Flow (m</text>
<text x="11.03" y="-3.80" font-size="6.25" font-weight="bold" fill="#262626" stroke="#262626" stroke-width="0.1" text-anchor="start" textLength="3.53" lengthAdjust="spacingAndGlyphs">3</text>
<text x="14.56" y="0.00" font-size="10.17" font-weight="bold" fill="#262626" stroke="#262626" stroke-width="0.1" text-anchor="start" textLength="11.44" lengthAdjust="spacingAndGlyphs">/s)</text>
</g>
<g transform="translate(725.5,151.4) rotate(-90)">
<text x="0.00" y="0.00" font-size="10.17" font-weight="bold" fill="#c0282d" stroke="#c0282d" stroke-width="0.1" text-anchor="middle" textLength="70.00" lengthAdjust="spacingAndGlyphs">Storage (% Full)</text>
</g>
<path d="M81.10,229.60 C81.53,229.77 82.65,230.68 83.70,230.60 C84.75,230.52 86.10,228.83 87.40,229.10 C88.70,229.37 90.47,231.17 91.50,232.20 C92.53,233.23 92.72,234.70 93.60,235.30 C94.47,235.90 95.88,235.52 96.75,235.80 C97.62,236.08 97.92,236.80 98.80,237.00 C99.67,237.20 100.87,237.45 102.00,237.00 C103.13,236.55 104.39,234.32 105.60,234.30 C106.81,234.28 108.12,236.22 109.25,236.90 C110.38,237.58 111.36,238.67 112.40,238.40 C113.44,238.13 114.38,235.17 115.50,235.30 C116.62,235.43 117.97,238.97 119.10,239.20 C120.23,239.43 121.17,236.83 122.30,236.70 C123.43,236.57 124.25,237.93 125.90,238.40 C127.55,238.87 129.77,239.27 132.20,239.50 C134.63,239.73 136.20,239.83 140.50,239.80 C144.80,239.77 144.70,239.43 158.00,239.30 C171.30,239.17 208.63,239.73 220.30,239.00 C231.97,238.27 225.62,235.00 228.00,234.90 C230.38,234.80 230.93,237.72 234.60,238.40 C238.27,239.08 239.10,238.87 250.00,239.00 C260.90,239.13 275.00,239.17 300.00,239.20 C325.00,239.23 375.00,239.23 400.00,239.20 C425.00,239.17 430.00,239.03 450.00,239.00 C470.00,238.97 507.67,238.50 520.00,239.00 C532.33,239.50 514.00,241.47 524.00,242.00 C534.00,242.53 569.90,242.20 580.00,242.20 C590.10,242.20 583.27,242.70 584.60,242.00 C585.93,241.30 586.95,239.03 588.00,238.00 C589.05,236.97 590.18,236.05 590.90,235.80 C591.62,235.55 591.78,236.90 592.30,236.50 C592.82,236.10 593.27,233.20 594.00,233.40 C594.73,233.60 594.55,236.85 596.70,237.70 C598.85,238.55 604.68,238.20 606.90,238.50 C609.12,238.80 609.07,239.37 610.00,239.50 C610.93,239.63 611.67,238.88 612.50,239.30 C613.33,239.72 610.42,241.55 615.00,242.00 C619.58,242.45 634.43,242.13 640.00,242.00 C645.57,241.87 645.95,241.53 648.40,241.20 C650.85,240.87 653.37,242.92 654.70,240.00 C656.03,237.08 655.68,225.53 656.40,223.70 C657.12,221.87 657.87,227.85 659.00,229.00 C660.13,230.15 661.98,229.73 663.20,230.60 C664.42,231.47 665.43,234.47 666.30,234.20 C667.17,233.93 667.58,229.10 668.40,229.00 C669.22,228.90 670.15,235.53 671.20,233.60 C672.25,231.67 673.65,218.58 674.70,217.40 C675.75,216.22 676.47,226.90 677.50,226.50 C678.53,226.10 680.10,220.45 680.90,215.00 C681.70,209.55 681.87,205.65 682.30,193.80 C682.73,181.95 682.93,147.48 683.50,143.90 C684.07,140.32 684.95,172.32 685.70,172.30 C686.45,172.28 687.27,161.28 688.00,143.80 C688.73,126.32 689.35,70.03 690.10,67.40 C690.85,64.77 691.80,115.57 692.50,128.00 C693.20,140.43 694.00,139.67 694.30,142.00" fill="none" stroke="#2e7ec0" stroke-width="1.9" stroke-linejoin="round" stroke-linecap="round"/>
<polyline points="81.00,240.30 694.50,240.30" fill="none" stroke="#70ad47" stroke-width="2" stroke-linejoin="round" stroke-linecap="round"/>
<path d="M81.60,240.50 C82.04,239.47 83.47,234.82 84.25,234.30 C85.03,233.78 85.61,237.40 86.30,237.40 C86.99,237.40 87.78,233.95 88.40,234.30 C89.02,234.65 88.78,238.47 90.00,239.50 C91.22,240.53 93.88,240.28 95.70,240.50 C97.52,240.72 99.60,241.67 100.90,240.80 C102.20,239.93 102.11,235.78 103.50,235.30 C104.89,234.82 107.77,237.08 109.25,237.90 C110.73,238.72 109.78,239.68 112.40,240.20 C115.03,240.72 120.32,240.87 125.00,241.00 C129.68,241.13 137.57,241.55 140.50,241.00 C143.43,240.45 141.90,237.67 142.60,237.70 C143.30,237.73 141.80,240.57 144.70,241.20 C147.60,241.83 156.73,241.75 160.00,241.50 C163.27,241.25 162.97,239.70 164.30,239.70 C165.63,239.70 166.22,241.23 168.00,241.50 C169.78,241.77 173.45,241.55 175.00,241.30 C176.55,241.05 176.47,239.97 177.30,240.00 C178.13,240.03 177.88,241.25 180.00,241.50 C182.12,241.75 187.50,242.02 190.00,241.50 C192.50,240.98 193.33,238.45 195.00,238.40 C196.67,238.35 198.33,240.72 200.00,241.20 C201.67,241.68 203.47,241.55 205.00,241.30 C206.53,241.05 207.87,239.72 209.20,239.70 C210.53,239.68 211.58,241.42 213.00,241.20 C214.42,240.98 216.03,238.98 217.70,238.40 C219.37,237.82 221.58,238.35 223.00,237.70 C224.42,237.05 224.80,234.38 226.20,234.50 C227.60,234.62 229.35,237.65 231.40,238.40 C233.45,239.15 236.44,238.57 238.50,239.00 C240.56,239.43 241.83,240.57 243.75,241.00 C245.67,241.43 199.79,241.50 250.00,241.60 C300.21,241.70 495.72,241.95 545.00,241.60 C594.28,241.25 545.37,239.50 545.70,239.50 C546.03,239.50 540.95,241.22 547.00,241.60 C553.05,241.98 575.60,242.77 582.00,241.80 C588.40,240.83 584.23,235.93 585.40,235.80 C586.57,235.67 587.70,240.93 589.00,241.00 C590.30,241.07 591.95,236.07 593.20,236.20 C594.45,236.33 588.70,240.87 596.50,241.80 C604.30,242.73 631.67,242.48 640.00,241.80 C648.33,241.12 644.83,237.75 646.50,237.70 C648.17,237.65 648.63,241.88 650.00,241.50 C651.37,241.12 653.62,235.45 654.70,235.40 C655.78,235.35 654.95,240.43 656.50,241.20 C658.05,241.97 661.47,240.37 664.00,240.00 C666.53,239.63 669.78,239.00 671.70,239.00 C673.62,239.00 674.22,240.80 675.50,240.00 C676.78,239.20 678.12,235.48 679.40,234.20 C680.68,232.92 682.23,232.93 683.20,232.30 C684.17,231.67 684.40,229.75 685.20,230.40 C686.00,231.05 687.20,236.20 688.00,236.20 C688.80,236.20 689.03,231.85 690.00,230.40 C690.97,228.95 693.17,227.98 693.80,227.50" fill="none" stroke="#f8be10" stroke-width="2" stroke-linejoin="round" stroke-linecap="round"/>
<path d="M81.10,82.90 C82.15,82.38 85.13,80.22 87.40,79.80 C89.67,79.38 92.10,80.20 94.70,80.40 C97.30,80.60 100.40,81.07 103.00,81.00 C105.60,80.93 107.52,79.92 110.30,80.00 C113.08,80.08 116.05,80.98 119.70,81.50 C123.35,82.02 128.03,82.35 132.20,83.10 C136.37,83.85 140.90,85.23 144.70,86.00 C148.50,86.77 151.53,86.90 155.00,87.70 C158.47,88.50 161.67,89.93 165.50,90.80 C169.33,91.67 173.67,91.95 178.00,92.90 C182.33,93.85 187.33,95.45 191.50,96.50 C195.67,97.55 197.96,98.30 203.00,99.20 C208.04,100.10 216.92,101.67 221.75,101.90 C226.58,102.13 229.29,100.65 232.00,100.60 C234.71,100.55 235.27,101.28 238.00,101.60 C240.73,101.92 243.90,101.83 248.40,102.50 C252.90,103.17 258.73,104.48 265.00,105.60 C271.27,106.72 279.04,108.05 286.00,109.20 C292.96,110.35 300.17,111.37 306.75,112.50 C313.33,113.63 318.91,114.82 325.50,116.00 C332.09,117.18 339.35,118.55 346.30,119.60 C353.25,120.65 360.95,121.27 367.20,122.30 C373.45,123.33 378.67,124.88 383.80,125.80 C388.93,126.72 391.82,127.03 398.00,127.80 C404.18,128.57 412.23,128.99 420.90,130.40 C429.57,131.81 441.67,134.62 450.00,136.25 C458.33,137.88 462.20,138.67 470.90,140.20 C479.60,141.72 493.52,143.83 502.20,145.40 C510.88,146.97 518.83,148.45 523.00,149.60 C527.17,150.75 525.47,151.61 527.20,152.30 C528.93,152.99 530.63,152.88 533.40,153.75 C536.17,154.62 540.70,156.46 543.80,157.50 C546.90,158.54 548.52,158.96 552.00,160.00 C555.48,161.04 560.16,162.25 564.70,163.75 C569.24,165.25 574.74,167.68 579.25,169.00 C583.76,170.32 587.92,171.02 591.75,171.70 C595.58,172.38 599.43,172.58 602.20,173.10 C604.98,173.62 606.67,174.45 608.40,174.80 C610.13,175.15 608.78,174.08 612.60,175.20 C616.42,176.32 624.88,179.52 631.30,181.50 C637.72,183.48 646.23,186.31 651.10,187.10 C655.97,187.89 656.85,186.08 660.50,186.25 C664.15,186.42 669.42,188.11 673.00,188.10 C676.58,188.09 679.88,188.22 682.00,186.20 C684.12,184.18 684.40,180.33 685.70,176.00 C687.00,171.67 688.75,164.70 689.80,160.20 C690.85,155.70 691.30,152.78 692.00,149.00 C692.70,145.22 693.67,139.42 694.00,137.50" fill="none" stroke="#cc2027" stroke-width="1.8" stroke-linejoin="round" stroke-linecap="round"/>
<line x1="183" y1="283.7" x2="202" y2="283.7" stroke="#2e7ec0" stroke-width="2"/>
<text x="205.30" y="286.80" font-size="8.72" font-weight="normal" fill="#404040" stroke="#404040" stroke-width="0.22" text-anchor="start" textLength="15.88" lengthAdjust="spacingAndGlyphs">Vaal</text>
<text x="223.23" y="286.80" font-size="8.72" font-weight="normal" fill="#404040" stroke="#404040" stroke-width="0.22" text-anchor="start" textLength="17.13" lengthAdjust="spacingAndGlyphs">Dam</text>
<text x="242.41" y="286.80" font-size="8.72" font-weight="normal" fill="#404040" stroke="#404040" stroke-width="0.22" text-anchor="start" textLength="23.12" lengthAdjust="spacingAndGlyphs">Inflow</text>
<line x1="281.7" y1="283.7" x2="300.4" y2="283.7" stroke="#70ad47" stroke-width="2"/>
<text x="304.00" y="286.80" font-size="8.72" font-weight="normal" fill="#404040" stroke="#404040" stroke-width="0.22" text-anchor="start" textLength="15.88" lengthAdjust="spacingAndGlyphs">Vaal</text>
<text x="321.93" y="286.80" font-size="8.72" font-weight="normal" fill="#404040" stroke="#404040" stroke-width="0.22" text-anchor="start" textLength="17.13" lengthAdjust="spacingAndGlyphs">Dam</text>
<text x="341.11" y="286.80" font-size="8.72" font-weight="normal" fill="#404040" stroke="#404040" stroke-width="0.22" text-anchor="start" textLength="36.02" lengthAdjust="spacingAndGlyphs">Discharge</text>
<line x1="393.5" y1="283.7" x2="412.3" y2="283.7" stroke="#f8be10" stroke-width="2"/>
<text x="415.60" y="286.80" font-size="8.72" font-weight="normal" fill="#404040" stroke="#404040" stroke-width="0.22" text-anchor="start" textLength="28.67" lengthAdjust="spacingAndGlyphs">Barrage</text>
<text x="446.31" y="286.80" font-size="8.72" font-weight="normal" fill="#404040" stroke="#404040" stroke-width="0.22" text-anchor="start" textLength="36.02" lengthAdjust="spacingAndGlyphs">Discharge</text>
<line x1="499" y1="283.7" x2="517" y2="283.7" stroke="#cc2027" stroke-width="2"/>
<text x="520.60" y="286.80" font-size="8.72" font-weight="normal" fill="#404040" stroke="#404040" stroke-width="0.22" text-anchor="start" textLength="15.88" lengthAdjust="spacingAndGlyphs">Vaal</text>
<text x="538.53" y="286.80" font-size="8.72" font-weight="normal" fill="#404040" stroke="#404040" stroke-width="0.22" text-anchor="start" textLength="17.13" lengthAdjust="spacingAndGlyphs">Dam</text>
<text x="557.71" y="286.80" font-size="8.72" font-weight="normal" fill="#404040" stroke="#404040" stroke-width="0.22" text-anchor="start" textLength="28.21" lengthAdjust="spacingAndGlyphs">Storage</text>
<rect x="23.2" y="323" width="580.4" height="13" fill="#e2efd9"/>
<rect x="605.9" y="323" width="138.30000000000007" height="13" fill="#e2efd9"/>
<rect x="23.2" y="336" width="101.3" height="70" fill="#e2efd9"/>
<line x1="22.599999999999998" y1="323" x2="744.8000000000001" y2="323" stroke="#333" stroke-width="1.25"/>
<line x1="22.599999999999998" y1="336" x2="744.8000000000001" y2="336" stroke="#333" stroke-width="1.25"/>
<line x1="22.599999999999998" y1="353.5" x2="744.8000000000001" y2="353.5" stroke="#333" stroke-width="1.25"/>
<line x1="22.599999999999998" y1="371" x2="744.8000000000001" y2="371" stroke="#333" stroke-width="1.25"/>
<line x1="22.599999999999998" y1="388.5" x2="744.8000000000001" y2="388.5" stroke="#333" stroke-width="1.25"/>
<line x1="22.599999999999998" y1="406" x2="744.8000000000001" y2="406" stroke="#333" stroke-width="1.25"/>
<line x1="23.2" y1="323" x2="23.2" y2="406" stroke="#333" stroke-width="1.25"/>
<line x1="124.5" y1="323" x2="124.5" y2="406" stroke="#333" stroke-width="1.25"/>
<line x1="193.1" y1="323" x2="193.1" y2="406" stroke="#333" stroke-width="1.25"/>
<line x1="261.7" y1="323" x2="261.7" y2="406" stroke="#333" stroke-width="1.25"/>
<line x1="330.29999999999995" y1="323" x2="330.29999999999995" y2="406" stroke="#333" stroke-width="1.25"/>
<line x1="398.9" y1="323" x2="398.9" y2="406" stroke="#333" stroke-width="1.25"/>
<line x1="467.5" y1="323" x2="467.5" y2="406" stroke="#333" stroke-width="1.25"/>
<line x1="536.0999999999999" y1="323" x2="536.0999999999999" y2="406" stroke="#333" stroke-width="1.25"/>
<line x1="603.6" y1="323" x2="603.6" y2="406" stroke="#333" stroke-width="1.1"/>
<line x1="605.9" y1="323" x2="605.9" y2="406" stroke="#333" stroke-width="1.1"/>
<line x1="651.9" y1="323" x2="651.9" y2="406" stroke="#333" stroke-width="1.25"/>
<line x1="697.6" y1="323" x2="697.6" y2="406" stroke="#333" stroke-width="1.25"/>
<line x1="744.2" y1="323" x2="744.2" y2="406" stroke="#333" stroke-width="1.25"/>
<text x="143.12" y="319.60" font-size="8.58" font-weight="bold" fill="#262626" stroke="#262626" stroke-width="0.1" text-anchor="start" textLength="31.36" lengthAdjust="spacingAndGlyphs">Monday</text>
<text x="134.95" y="332.80" font-size="8.87" font-weight="bold" fill="#000" stroke="#000" stroke-width="0.1" text-anchor="start" textLength="9.98" lengthAdjust="spacingAndGlyphs">13</text>
<text x="147.16" y="332.80" font-size="8.87" font-weight="bold" fill="#000" stroke="#000" stroke-width="0.1" text-anchor="start" textLength="13.30" lengthAdjust="spacingAndGlyphs">Jan</text>
<text x="162.68" y="332.80" font-size="8.87" font-weight="bold" fill="#000" stroke="#000" stroke-width="0.1" text-anchor="start" textLength="19.97" lengthAdjust="spacingAndGlyphs">2025</text>
<text x="211.78" y="319.60" font-size="8.58" font-weight="bold" fill="#262626" stroke="#262626" stroke-width="0.1" text-anchor="start" textLength="31.25" lengthAdjust="spacingAndGlyphs">Tuesday</text>
<text x="203.55" y="332.80" font-size="8.87" font-weight="bold" fill="#000" stroke="#000" stroke-width="0.1" text-anchor="start" textLength="9.98" lengthAdjust="spacingAndGlyphs">14</text>
<text x="215.76" y="332.80" font-size="8.87" font-weight="bold" fill="#000" stroke="#000" stroke-width="0.1" text-anchor="start" textLength="13.30" lengthAdjust="spacingAndGlyphs">Jan</text>
<text x="231.28" y="332.80" font-size="8.87" font-weight="bold" fill="#000" stroke="#000" stroke-width="0.1" text-anchor="start" textLength="19.97" lengthAdjust="spacingAndGlyphs">2025</text>
<text x="273.80" y="319.60" font-size="8.58" font-weight="bold" fill="#262626" stroke="#262626" stroke-width="0.1" text-anchor="start" textLength="44.39" lengthAdjust="spacingAndGlyphs">Wednesday</text>
<text x="272.15" y="332.80" font-size="8.87" font-weight="bold" fill="#000" stroke="#000" stroke-width="0.1" text-anchor="start" textLength="9.98" lengthAdjust="spacingAndGlyphs">15</text>
<text x="284.36" y="332.80" font-size="8.87" font-weight="bold" fill="#000" stroke="#000" stroke-width="0.1" text-anchor="start" textLength="13.30" lengthAdjust="spacingAndGlyphs">Jan</text>
<text x="299.88" y="332.80" font-size="8.87" font-weight="bold" fill="#000" stroke="#000" stroke-width="0.1" text-anchor="start" textLength="19.97" lengthAdjust="spacingAndGlyphs">2025</text>
<text x="347.21" y="319.60" font-size="8.58" font-weight="bold" fill="#262626" stroke="#262626" stroke-width="0.1" text-anchor="start" textLength="34.78" lengthAdjust="spacingAndGlyphs">Thursday</text>
<text x="340.75" y="332.80" font-size="8.87" font-weight="bold" fill="#000" stroke="#000" stroke-width="0.1" text-anchor="start" textLength="9.98" lengthAdjust="spacingAndGlyphs">16</text>
<text x="352.96" y="332.80" font-size="8.87" font-weight="bold" fill="#000" stroke="#000" stroke-width="0.1" text-anchor="start" textLength="13.30" lengthAdjust="spacingAndGlyphs">Jan</text>
<text x="368.48" y="332.80" font-size="8.87" font-weight="bold" fill="#000" stroke="#000" stroke-width="0.1" text-anchor="start" textLength="19.97" lengthAdjust="spacingAndGlyphs">2025</text>
<text x="421.52" y="319.60" font-size="8.58" font-weight="bold" fill="#262626" stroke="#262626" stroke-width="0.1" text-anchor="start" textLength="23.36" lengthAdjust="spacingAndGlyphs">Friday</text>
<text x="409.35" y="332.80" font-size="8.87" font-weight="bold" fill="#000" stroke="#000" stroke-width="0.1" text-anchor="start" textLength="9.98" lengthAdjust="spacingAndGlyphs">17</text>
<text x="421.56" y="332.80" font-size="8.87" font-weight="bold" fill="#000" stroke="#000" stroke-width="0.1" text-anchor="start" textLength="13.30" lengthAdjust="spacingAndGlyphs">Jan</text>
<text x="437.08" y="332.80" font-size="8.87" font-weight="bold" fill="#000" stroke="#000" stroke-width="0.1" text-anchor="start" textLength="19.97" lengthAdjust="spacingAndGlyphs">2025</text>
<text x="484.92" y="319.60" font-size="8.58" font-weight="bold" fill="#262626" stroke="#262626" stroke-width="0.1" text-anchor="start" textLength="33.75" lengthAdjust="spacingAndGlyphs">Saturday</text>
<text x="477.95" y="332.80" font-size="8.87" font-weight="bold" fill="#000" stroke="#000" stroke-width="0.1" text-anchor="start" textLength="9.98" lengthAdjust="spacingAndGlyphs">18</text>
<text x="490.16" y="332.80" font-size="8.87" font-weight="bold" fill="#000" stroke="#000" stroke-width="0.1" text-anchor="start" textLength="13.30" lengthAdjust="spacingAndGlyphs">Jan</text>
<text x="505.68" y="332.80" font-size="8.87" font-weight="bold" fill="#000" stroke="#000" stroke-width="0.1" text-anchor="start" textLength="19.97" lengthAdjust="spacingAndGlyphs">2025</text>
<text x="555.97" y="319.60" font-size="8.58" font-weight="bold" fill="#262626" stroke="#262626" stroke-width="0.1" text-anchor="start" textLength="27.76" lengthAdjust="spacingAndGlyphs">Sunday</text>
<text x="546.00" y="332.80" font-size="8.87" font-weight="bold" fill="#000" stroke="#000" stroke-width="0.1" text-anchor="start" textLength="9.98" lengthAdjust="spacingAndGlyphs">19</text>
<text x="558.21" y="332.80" font-size="8.87" font-weight="bold" fill="#000" stroke="#000" stroke-width="0.1" text-anchor="start" textLength="13.30" lengthAdjust="spacingAndGlyphs">Jan</text>
<text x="573.73" y="332.80" font-size="8.87" font-weight="bold" fill="#000" stroke="#000" stroke-width="0.1" text-anchor="start" textLength="19.97" lengthAdjust="spacingAndGlyphs">2025</text>
<text x="660.95" y="319.60" font-size="8.58" font-weight="bold" fill="#262626" stroke="#262626" stroke-width="0.1" text-anchor="start" textLength="28.21" lengthAdjust="spacingAndGlyphs">Weekly</text>
<text x="619.90" y="332.80" font-size="8.87" font-weight="bold" fill="#000" stroke="#000" stroke-width="0.1" text-anchor="start" textLength="18.00" lengthAdjust="spacingAndGlyphs">Max</text>
<text x="666.60" y="332.80" font-size="8.87" font-weight="bold" fill="#000" stroke="#000" stroke-width="0.1" text-anchor="start" textLength="16.29" lengthAdjust="spacingAndGlyphs">Min</text>
<text x="713.25" y="332.80" font-size="8.87" font-weight="bold" fill="#000" stroke="#000" stroke-width="0.1" text-anchor="start" textLength="15.29" lengthAdjust="spacingAndGlyphs">Avg</text>
<text x="51.40" y="332.80" font-size="9.30" font-weight="bold" fill="#000" stroke="#000" stroke-width="0.1" text-anchor="start" textLength="21.91" lengthAdjust="spacingAndGlyphs">VAAL</text>
<text x="75.54" y="332.80" font-size="9.30" font-weight="bold" fill="#000" stroke="#000" stroke-width="0.1" text-anchor="start" textLength="20.77" lengthAdjust="spacingAndGlyphs">DAM</text>
<text x="47.35" y="349.35" font-size="9.30" fill="#262626" stroke="#262626" stroke-width="0.22" textLength="25.54" lengthAdjust="spacingAndGlyphs">Inflow</text>
<text x="75.15" y="349.35" font-size="9.30" fill="#262626" stroke="#262626" stroke-width="0.22" textLength="11.02" lengthAdjust="spacingAndGlyphs">(m</text>
<text x="86.17" y="345.15" font-size="7.27" fill="#262626" stroke="#262626" stroke-width="0.17600000000000002" textLength="3.35" lengthAdjust="spacingAndGlyphs">3</text>
<text x="89.52" y="349.35" font-size="9.30" fill="#262626" stroke="#262626" stroke-width="0.22" textLength="10.83" lengthAdjust="spacingAndGlyphs">/s)</text>
<text x="158.80" y="349.25" font-size="10.32" font-weight="normal" fill="#2e75b6" stroke="#2e75b6" stroke-width="0.22" text-anchor="middle" textLength="31.88" lengthAdjust="spacingAndGlyphs">1,268.4</text>
<text x="227.40" y="349.25" font-size="10.32" font-weight="normal" fill="#2e75b6" stroke="#2e75b6" stroke-width="0.22" text-anchor="middle" textLength="31.88" lengthAdjust="spacingAndGlyphs">1,093.9</text>
<text x="628.90" y="349.25" font-size="10.32" font-weight="normal" fill="#2e75b6" stroke="#2e75b6" stroke-width="0.22" text-anchor="middle" textLength="31.88" lengthAdjust="spacingAndGlyphs">1,268.4</text>
<text x="674.75" y="349.25" font-size="10.32" font-weight="normal" fill="#2e75b6" stroke="#2e75b6" stroke-width="0.22" text-anchor="middle" textLength="31.88" lengthAdjust="spacingAndGlyphs">1,093.9</text>
<text x="720.90" y="349.25" font-size="10.32" font-weight="normal" fill="#2e75b6" stroke="#2e75b6" stroke-width="0.22" text-anchor="middle" textLength="31.88" lengthAdjust="spacingAndGlyphs">1,181.2</text>
<text x="42.15" y="366.85" font-size="9.30" fill="#262626" stroke="#262626" stroke-width="0.22" textLength="31.18" lengthAdjust="spacingAndGlyphs">Storage</text>
<text x="75.59" y="366.85" font-size="9.30" fill="#262626" stroke="#262626" stroke-width="0.22" textLength="10.23" lengthAdjust="spacingAndGlyphs">(%</text>
<text x="88.08" y="366.85" font-size="9.30" fill="#262626" stroke="#262626" stroke-width="0.22" textLength="17.47" lengthAdjust="spacingAndGlyphs">Full)</text>
<text x="158.80" y="366.75" font-size="10.32" font-weight="normal" fill="#c8141e" stroke="#c8141e" stroke-width="0.22" text-anchor="middle" textLength="23.94" lengthAdjust="spacingAndGlyphs">40.33</text>
<text x="227.40" y="366.75" font-size="10.32" font-weight="normal" fill="#c8141e" stroke="#c8141e" stroke-width="0.22" text-anchor="middle" textLength="23.94" lengthAdjust="spacingAndGlyphs">46.15</text>
<text x="628.90" y="366.75" font-size="10.32" font-weight="normal" fill="#c8141e" stroke="#c8141e" stroke-width="0.22" text-anchor="middle" textLength="23.94" lengthAdjust="spacingAndGlyphs">46.15</text>
<text x="674.75" y="366.75" font-size="10.32" font-weight="normal" fill="#c8141e" stroke="#c8141e" stroke-width="0.22" text-anchor="middle" textLength="23.94" lengthAdjust="spacingAndGlyphs">40.33</text>
<text x="720.90" y="366.75" font-size="10.32" font-weight="normal" fill="#c8141e" stroke="#c8141e" stroke-width="0.22" text-anchor="middle" textLength="23.94" lengthAdjust="spacingAndGlyphs">43.24</text>
<text x="40.22" y="384.35" font-size="9.30" fill="#262626" stroke="#262626" stroke-width="0.22" textLength="39.80" lengthAdjust="spacingAndGlyphs">Discharge</text>
<text x="82.28" y="384.35" font-size="9.30" fill="#262626" stroke="#262626" stroke-width="0.22" textLength="11.02" lengthAdjust="spacingAndGlyphs">(m</text>
<text x="93.30" y="380.15" font-size="7.27" fill="#262626" stroke="#262626" stroke-width="0.17600000000000002" textLength="3.35" lengthAdjust="spacingAndGlyphs">3</text>
<text x="96.65" y="384.35" font-size="9.30" fill="#262626" stroke="#262626" stroke-width="0.22" textLength="10.83" lengthAdjust="spacingAndGlyphs">/s)</text>
<text x="158.80" y="384.25" font-size="10.32" font-weight="normal" fill="#5e8f3e" stroke="#5e8f3e" stroke-width="0.22" text-anchor="middle" textLength="18.62" lengthAdjust="spacingAndGlyphs">16.8</text>
<text x="227.40" y="384.25" font-size="10.32" font-weight="normal" fill="#5e8f3e" stroke="#5e8f3e" stroke-width="0.22" text-anchor="middle" textLength="18.62" lengthAdjust="spacingAndGlyphs">16.8</text>
<text x="628.90" y="384.25" font-size="10.32" font-weight="normal" fill="#5e8f3e" stroke="#5e8f3e" stroke-width="0.22" text-anchor="middle" textLength="18.62" lengthAdjust="spacingAndGlyphs">16.8</text>
<text x="674.75" y="384.25" font-size="10.32" font-weight="normal" fill="#5e8f3e" stroke="#5e8f3e" stroke-width="0.22" text-anchor="middle" textLength="18.62" lengthAdjust="spacingAndGlyphs">16.8</text>
<text x="720.90" y="384.25" font-size="10.32" font-weight="normal" fill="#5e8f3e" stroke="#5e8f3e" stroke-width="0.22" text-anchor="middle" textLength="18.62" lengthAdjust="spacingAndGlyphs">16.8</text>
<text x="30.40" y="401.85" font-size="9.30" fill="#262626" stroke="#262626" stroke-width="0.22" textLength="23.64" lengthAdjust="spacingAndGlyphs">Sluice</text>
<text x="56.30" y="401.85" font-size="9.30" fill="#262626" stroke="#262626" stroke-width="0.22" textLength="23.33" lengthAdjust="spacingAndGlyphs">Gates</text>
<text x="81.90" y="401.85" font-size="9.30" fill="#262626" stroke="#262626" stroke-width="0.22" textLength="22.10" lengthAdjust="spacingAndGlyphs">Open</text>
<text x="106.26" y="401.85" font-size="9.30" fill="#262626" stroke="#262626" stroke-width="0.22" textLength="11.04" lengthAdjust="spacingAndGlyphs">(#)</text>
<text x="158.80" y="401.75" font-size="10.32" font-weight="normal" fill="#000" stroke="#000" stroke-width="0.22" text-anchor="middle" textLength="5.32" lengthAdjust="spacingAndGlyphs">0</text>
<text x="227.40" y="401.75" font-size="10.32" font-weight="normal" fill="#000" stroke="#000" stroke-width="0.22" text-anchor="middle" textLength="5.32" lengthAdjust="spacingAndGlyphs">0</text>
<text x="628.90" y="401.75" font-size="10.32" font-weight="normal" fill="#000" stroke="#000" stroke-width="0.22" text-anchor="middle" textLength="5.32" lengthAdjust="spacingAndGlyphs">0</text>
<text x="674.75" y="401.75" font-size="10.32" font-weight="normal" fill="#000" stroke="#000" stroke-width="0.22" text-anchor="middle" textLength="5.32" lengthAdjust="spacingAndGlyphs">0</text>
<text x="720.90" y="401.75" font-size="10.32" font-weight="normal" fill="#000" stroke="#000" stroke-width="0.22" text-anchor="middle" textLength="5.32" lengthAdjust="spacingAndGlyphs">0</text>
<rect x="23.2" y="436.5" width="580.4" height="13.5" fill="#ddebf7"/>
<rect x="605.9" y="436.5" width="138.30000000000007" height="13.5" fill="#ddebf7"/>
<rect x="23.2" y="450" width="101.3" height="52" fill="#ddebf7"/>
<line x1="22.599999999999998" y1="436.5" x2="744.8000000000001" y2="436.5" stroke="#333" stroke-width="1.25"/>
<line x1="22.599999999999998" y1="450" x2="744.8000000000001" y2="450" stroke="#333" stroke-width="1.25"/>
<line x1="22.599999999999998" y1="467.5" x2="744.8000000000001" y2="467.5" stroke="#333" stroke-width="1.25"/>
<line x1="22.599999999999998" y1="485" x2="744.8000000000001" y2="485" stroke="#333" stroke-width="1.25"/>
<line x1="22.599999999999998" y1="502" x2="744.8000000000001" y2="502" stroke="#333" stroke-width="1.25"/>
<line x1="23.2" y1="436.5" x2="23.2" y2="502" stroke="#333" stroke-width="1.25"/>
<line x1="124.5" y1="436.5" x2="124.5" y2="502" stroke="#333" stroke-width="1.25"/>
<line x1="193.1" y1="436.5" x2="193.1" y2="502" stroke="#333" stroke-width="1.25"/>
<line x1="261.7" y1="436.5" x2="261.7" y2="502" stroke="#333" stroke-width="1.25"/>
<line x1="330.29999999999995" y1="436.5" x2="330.29999999999995" y2="502" stroke="#333" stroke-width="1.25"/>
<line x1="398.9" y1="436.5" x2="398.9" y2="502" stroke="#333" stroke-width="1.25"/>
<line x1="467.5" y1="436.5" x2="467.5" y2="502" stroke="#333" stroke-width="1.25"/>
<line x1="536.0999999999999" y1="436.5" x2="536.0999999999999" y2="502" stroke="#333" stroke-width="1.25"/>
<line x1="603.6" y1="436.5" x2="603.6" y2="502" stroke="#333" stroke-width="1.1"/>
<line x1="605.9" y1="436.5" x2="605.9" y2="502" stroke="#333" stroke-width="1.1"/>
<line x1="651.9" y1="436.5" x2="651.9" y2="502" stroke="#333" stroke-width="1.25"/>
<line x1="697.6" y1="436.5" x2="697.6" y2="502" stroke="#333" stroke-width="1.25"/>
<line x1="744.2" y1="436.5" x2="744.2" y2="502" stroke="#333" stroke-width="1.25"/>
<text x="143.12" y="433.10" font-size="8.58" font-weight="bold" fill="#262626" stroke="#262626" stroke-width="0.1" text-anchor="start" textLength="31.36" lengthAdjust="spacingAndGlyphs">Monday</text>
<text x="134.95" y="446.80" font-size="8.87" font-weight="bold" fill="#000" stroke="#000" stroke-width="0.1" text-anchor="start" textLength="9.98" lengthAdjust="spacingAndGlyphs">13</text>
<text x="147.16" y="446.80" font-size="8.87" font-weight="bold" fill="#000" stroke="#000" stroke-width="0.1" text-anchor="start" textLength="13.30" lengthAdjust="spacingAndGlyphs">Jan</text>
<text x="162.68" y="446.80" font-size="8.87" font-weight="bold" fill="#000" stroke="#000" stroke-width="0.1" text-anchor="start" textLength="19.97" lengthAdjust="spacingAndGlyphs">2025</text>
<text x="211.78" y="433.10" font-size="8.58" font-weight="bold" fill="#262626" stroke="#262626" stroke-width="0.1" text-anchor="start" textLength="31.25" lengthAdjust="spacingAndGlyphs">Tuesday</text>
<text x="203.55" y="446.80" font-size="8.87" font-weight="bold" fill="#000" stroke="#000" stroke-width="0.1" text-anchor="start" textLength="9.98" lengthAdjust="spacingAndGlyphs">14</text>
<text x="215.76" y="446.80" font-size="8.87" font-weight="bold" fill="#000" stroke="#000" stroke-width="0.1" text-anchor="start" textLength="13.30" lengthAdjust="spacingAndGlyphs">Jan</text>
<text x="231.28" y="446.80" font-size="8.87" font-weight="bold" fill="#000" stroke="#000" stroke-width="0.1" text-anchor="start" textLength="19.97" lengthAdjust="spacingAndGlyphs">2025</text>
<text x="273.80" y="433.10" font-size="8.58" font-weight="bold" fill="#262626" stroke="#262626" stroke-width="0.1" text-anchor="start" textLength="44.39" lengthAdjust="spacingAndGlyphs">Wednesday</text>
<text x="272.15" y="446.80" font-size="8.87" font-weight="bold" fill="#000" stroke="#000" stroke-width="0.1" text-anchor="start" textLength="9.98" lengthAdjust="spacingAndGlyphs">15</text>
<text x="284.36" y="446.80" font-size="8.87" font-weight="bold" fill="#000" stroke="#000" stroke-width="0.1" text-anchor="start" textLength="13.30" lengthAdjust="spacingAndGlyphs">Jan</text>
<text x="299.88" y="446.80" font-size="8.87" font-weight="bold" fill="#000" stroke="#000" stroke-width="0.1" text-anchor="start" textLength="19.97" lengthAdjust="spacingAndGlyphs">2025</text>
<text x="347.21" y="433.10" font-size="8.58" font-weight="bold" fill="#262626" stroke="#262626" stroke-width="0.1" text-anchor="start" textLength="34.78" lengthAdjust="spacingAndGlyphs">Thursday</text>
<text x="340.75" y="446.80" font-size="8.87" font-weight="bold" fill="#000" stroke="#000" stroke-width="0.1" text-anchor="start" textLength="9.98" lengthAdjust="spacingAndGlyphs">16</text>
<text x="352.96" y="446.80" font-size="8.87" font-weight="bold" fill="#000" stroke="#000" stroke-width="0.1" text-anchor="start" textLength="13.30" lengthAdjust="spacingAndGlyphs">Jan</text>
<text x="368.48" y="446.80" font-size="8.87" font-weight="bold" fill="#000" stroke="#000" stroke-width="0.1" text-anchor="start" textLength="19.97" lengthAdjust="spacingAndGlyphs">2025</text>
<text x="421.52" y="433.10" font-size="8.58" font-weight="bold" fill="#262626" stroke="#262626" stroke-width="0.1" text-anchor="start" textLength="23.36" lengthAdjust="spacingAndGlyphs">Friday</text>
<text x="409.35" y="446.80" font-size="8.87" font-weight="bold" fill="#000" stroke="#000" stroke-width="0.1" text-anchor="start" textLength="9.98" lengthAdjust="spacingAndGlyphs">17</text>
<text x="421.56" y="446.80" font-size="8.87" font-weight="bold" fill="#000" stroke="#000" stroke-width="0.1" text-anchor="start" textLength="13.30" lengthAdjust="spacingAndGlyphs">Jan</text>
<text x="437.08" y="446.80" font-size="8.87" font-weight="bold" fill="#000" stroke="#000" stroke-width="0.1" text-anchor="start" textLength="19.97" lengthAdjust="spacingAndGlyphs">2025</text>
<text x="484.92" y="433.10" font-size="8.58" font-weight="bold" fill="#262626" stroke="#262626" stroke-width="0.1" text-anchor="start" textLength="33.75" lengthAdjust="spacingAndGlyphs">Saturday</text>
<text x="477.95" y="446.80" font-size="8.87" font-weight="bold" fill="#000" stroke="#000" stroke-width="0.1" text-anchor="start" textLength="9.98" lengthAdjust="spacingAndGlyphs">18</text>
<text x="490.16" y="446.80" font-size="8.87" font-weight="bold" fill="#000" stroke="#000" stroke-width="0.1" text-anchor="start" textLength="13.30" lengthAdjust="spacingAndGlyphs">Jan</text>
<text x="505.68" y="446.80" font-size="8.87" font-weight="bold" fill="#000" stroke="#000" stroke-width="0.1" text-anchor="start" textLength="19.97" lengthAdjust="spacingAndGlyphs">2025</text>
<text x="555.97" y="433.10" font-size="8.58" font-weight="bold" fill="#262626" stroke="#262626" stroke-width="0.1" text-anchor="start" textLength="27.76" lengthAdjust="spacingAndGlyphs">Sunday</text>
<text x="546.00" y="446.80" font-size="8.87" font-weight="bold" fill="#000" stroke="#000" stroke-width="0.1" text-anchor="start" textLength="9.98" lengthAdjust="spacingAndGlyphs">19</text>
<text x="558.21" y="446.80" font-size="8.87" font-weight="bold" fill="#000" stroke="#000" stroke-width="0.1" text-anchor="start" textLength="13.30" lengthAdjust="spacingAndGlyphs">Jan</text>
<text x="573.73" y="446.80" font-size="8.87" font-weight="bold" fill="#000" stroke="#000" stroke-width="0.1" text-anchor="start" textLength="19.97" lengthAdjust="spacingAndGlyphs">2025</text>
<text x="660.95" y="433.10" font-size="8.58" font-weight="bold" fill="#262626" stroke="#262626" stroke-width="0.1" text-anchor="start" textLength="28.21" lengthAdjust="spacingAndGlyphs">Weekly</text>
<text x="619.90" y="446.80" font-size="8.87" font-weight="bold" fill="#000" stroke="#000" stroke-width="0.1" text-anchor="start" textLength="18.00" lengthAdjust="spacingAndGlyphs">Max</text>
<text x="666.60" y="446.80" font-size="8.87" font-weight="bold" fill="#000" stroke="#000" stroke-width="0.1" text-anchor="start" textLength="16.29" lengthAdjust="spacingAndGlyphs">Min</text>
<text x="713.25" y="446.80" font-size="8.87" font-weight="bold" fill="#000" stroke="#000" stroke-width="0.1" text-anchor="start" textLength="15.29" lengthAdjust="spacingAndGlyphs">Avg</text>
<text x="41.94" y="446.80" font-size="9.30" font-weight="bold" fill="#000" stroke="#000" stroke-width="0.1" text-anchor="start" textLength="21.91" lengthAdjust="spacingAndGlyphs">VAAL</text>
<text x="66.08" y="446.80" font-size="9.30" font-weight="bold" fill="#000" stroke="#000" stroke-width="0.1" text-anchor="start" textLength="39.68" lengthAdjust="spacingAndGlyphs">BARRAGE</text>
<text x="55.21" y="462.75" font-size="9.30" fill="#262626" stroke="#262626" stroke-width="0.22" textLength="20.97" lengthAdjust="spacingAndGlyphs">Level</text>
<text x="78.44" y="462.75" font-size="9.30" fill="#262626" stroke="#262626" stroke-width="0.22" textLength="14.05" lengthAdjust="spacingAndGlyphs">(m)</text>
<text x="158.80" y="462.65" font-size="10.32" font-weight="normal" fill="#000" stroke="#000" stroke-width="0.22" text-anchor="middle" textLength="13.29" lengthAdjust="spacingAndGlyphs">7.4</text>
<text x="227.40" y="462.65" font-size="10.32" font-weight="normal" fill="#000" stroke="#000" stroke-width="0.22" text-anchor="middle" textLength="13.29" lengthAdjust="spacingAndGlyphs">7.6</text>
<text x="628.90" y="462.65" font-size="10.32" font-weight="normal" fill="#000" stroke="#000" stroke-width="0.22" text-anchor="middle" textLength="13.29" lengthAdjust="spacingAndGlyphs">7.6</text>
<text x="674.75" y="462.65" font-size="10.32" font-weight="normal" fill="#000" stroke="#000" stroke-width="0.22" text-anchor="middle" textLength="13.29" lengthAdjust="spacingAndGlyphs">7.4</text>
<text x="720.90" y="462.65" font-size="10.32" font-weight="normal" fill="#000" stroke="#000" stroke-width="0.22" text-anchor="middle" textLength="13.29" lengthAdjust="spacingAndGlyphs">7.5</text>
<text x="40.22" y="480.35" font-size="9.30" fill="#262626" stroke="#262626" stroke-width="0.22" textLength="39.80" lengthAdjust="spacingAndGlyphs">Discharge</text>
<text x="82.28" y="480.35" font-size="9.30" fill="#262626" stroke="#262626" stroke-width="0.22" textLength="11.02" lengthAdjust="spacingAndGlyphs">(m</text>
<text x="93.30" y="476.15" font-size="7.27" fill="#262626" stroke="#262626" stroke-width="0.17600000000000002" textLength="3.35" lengthAdjust="spacingAndGlyphs">3</text>
<text x="96.65" y="480.35" font-size="9.30" fill="#262626" stroke="#262626" stroke-width="0.22" textLength="10.83" lengthAdjust="spacingAndGlyphs">/s)</text>
<text x="158.80" y="480.25" font-size="10.32" font-weight="normal" fill="#bf8f00" stroke="#bf8f00" stroke-width="0.22" text-anchor="middle" textLength="23.94" lengthAdjust="spacingAndGlyphs">111.3</text>
<text x="227.40" y="480.25" font-size="10.32" font-weight="normal" fill="#bf8f00" stroke="#bf8f00" stroke-width="0.22" text-anchor="middle" textLength="23.94" lengthAdjust="spacingAndGlyphs">157.0</text>
<text x="628.90" y="480.25" font-size="10.32" font-weight="normal" fill="#bf8f00" stroke="#bf8f00" stroke-width="0.22" text-anchor="middle" textLength="23.94" lengthAdjust="spacingAndGlyphs">157.0</text>
<text x="674.75" y="480.25" font-size="10.32" font-weight="normal" fill="#bf8f00" stroke="#bf8f00" stroke-width="0.22" text-anchor="middle" textLength="23.94" lengthAdjust="spacingAndGlyphs">111.3</text>
<text x="720.90" y="480.25" font-size="10.32" font-weight="normal" fill="#bf8f00" stroke="#bf8f00" stroke-width="0.22" text-anchor="middle" textLength="23.94" lengthAdjust="spacingAndGlyphs">134.1</text>
<text x="39.86" y="497.80" font-size="9.30" fill="#262626" stroke="#262626" stroke-width="0.22" textLength="25.50" lengthAdjust="spacingAndGlyphs">Water</text>
<text x="67.62" y="497.80" font-size="9.30" fill="#262626" stroke="#262626" stroke-width="0.22" textLength="23.09" lengthAdjust="spacingAndGlyphs">Temp</text>
<text x="92.97" y="497.80" font-size="9.30" fill="#262626" stroke="#262626" stroke-width="0.22" textLength="3.03" lengthAdjust="spacingAndGlyphs">(</text>
<text x="96.00" y="493.60" font-size="7.27" fill="#262626" stroke="#262626" stroke-width="0.17600000000000002" textLength="3.48" lengthAdjust="spacingAndGlyphs">o</text>
<text x="99.48" y="497.80" font-size="9.30" fill="#262626" stroke="#262626" stroke-width="0.22" textLength="8.36" lengthAdjust="spacingAndGlyphs">C)</text>
<text x="158.80" y="497.70" font-size="10.32" font-weight="normal" fill="#000" stroke="#000" stroke-width="0.22" text-anchor="middle" textLength="18.62" lengthAdjust="spacingAndGlyphs">22.2</text>
<text x="227.40" y="497.70" font-size="10.32" font-weight="normal" fill="#000" stroke="#000" stroke-width="0.22" text-anchor="middle" textLength="18.62" lengthAdjust="spacingAndGlyphs">23.0</text>
<text x="628.90" y="497.70" font-size="10.32" font-weight="normal" fill="#000" stroke="#000" stroke-width="0.22" text-anchor="middle" textLength="18.62" lengthAdjust="spacingAndGlyphs">23.0</text>
<text x="674.75" y="497.70" font-size="10.32" font-weight="normal" fill="#000" stroke="#000" stroke-width="0.22" text-anchor="middle" textLength="18.62" lengthAdjust="spacingAndGlyphs">22.2</text>
<text x="720.90" y="497.70" font-size="10.32" font-weight="normal" fill="#000" stroke="#000" stroke-width="0.22" text-anchor="middle" textLength="18.62" lengthAdjust="spacingAndGlyphs">22.6</text>
<text x="66.00" y="525.50" font-size="8.72" font-weight="normal" fill="#262626" stroke="#262626" stroke-width="0.22" text-anchor="start" textLength="44.41" lengthAdjust="spacingAndGlyphs">Information</text>
<text x="112.48" y="525.50" font-size="8.72" font-weight="normal" fill="#262626" stroke="#262626" stroke-width="0.22" text-anchor="start" textLength="31.56" lengthAdjust="spacingAndGlyphs">supplied</text>
<text x="146.11" y="525.50" font-size="8.72" font-weight="normal" fill="#262626" stroke="#262626" stroke-width="0.22" text-anchor="start" textLength="9.63" lengthAdjust="spacingAndGlyphs">on</text>
<text x="157.81" y="525.50" font-size="8.72" font-weight="normal" fill="#262626" stroke="#262626" stroke-width="0.22" text-anchor="start" textLength="23.44" lengthAdjust="spacingAndGlyphs">behalf</text>
<text x="183.32" y="525.50" font-size="8.72" font-weight="normal" fill="#262626" stroke="#262626" stroke-width="0.22" text-anchor="start" textLength="7.62" lengthAdjust="spacingAndGlyphs">of</text>
<text x="193.01" y="525.50" font-size="8.72" font-weight="normal" fill="#262626" stroke="#262626" stroke-width="0.22" text-anchor="start" textLength="18.97" lengthAdjust="spacingAndGlyphs">Rand</text>
<text x="214.04" y="525.50" font-size="8.72" font-weight="normal" fill="#262626" stroke="#262626" stroke-width="0.22" text-anchor="start" textLength="23.33" lengthAdjust="spacingAndGlyphs">Water</text>
<text x="239.44" y="525.50" font-size="8.72" font-weight="normal" fill="#262626" stroke="#262626" stroke-width="0.22" text-anchor="start" textLength="14.00" lengthAdjust="spacingAndGlyphs">and</text>
<text x="255.51" y="525.50" font-size="8.72" font-weight="normal" fill="#262626" stroke="#262626" stroke-width="0.22" text-anchor="start" textLength="12.42" lengthAdjust="spacingAndGlyphs">the</text>
<text x="270.00" y="525.50" font-size="8.72" font-weight="normal" fill="#262626" stroke="#262626" stroke-width="0.22" text-anchor="start" textLength="20.36" lengthAdjust="spacingAndGlyphs">Dept.</text>
<text x="292.43" y="525.50" font-size="8.72" font-weight="normal" fill="#262626" stroke="#262626" stroke-width="0.22" text-anchor="start" textLength="23.33" lengthAdjust="spacingAndGlyphs">Water</text>
<text x="317.83" y="525.50" font-size="8.72" font-weight="normal" fill="#262626" stroke="#262626" stroke-width="0.22" text-anchor="start" textLength="6.23" lengthAdjust="spacingAndGlyphs">&amp;</text>
<text x="326.13" y="525.50" font-size="8.72" font-weight="normal" fill="#262626" stroke="#262626" stroke-width="0.22" text-anchor="start" textLength="40.05" lengthAdjust="spacingAndGlyphs">Sanitation.</text>
<text x="368.25" y="525.50" font-size="8.72" font-weight="normal" fill="#262626" stroke="#262626" stroke-width="0.22" text-anchor="start" textLength="13.80" lengthAdjust="spacingAndGlyphs">Not</text>
<text x="384.11" y="525.50" font-size="8.72" font-weight="normal" fill="#262626" stroke="#262626" stroke-width="0.22" text-anchor="start" textLength="8.58" lengthAdjust="spacingAndGlyphs">all</text>
<text x="394.77" y="525.50" font-size="8.72" font-weight="normal" fill="#262626" stroke="#262626" stroke-width="0.22" text-anchor="start" textLength="42.07" lengthAdjust="spacingAndGlyphs">abstraction</text>
<text x="438.91" y="525.50" font-size="8.72" font-weight="normal" fill="#262626" stroke="#262626" stroke-width="0.22" text-anchor="start" textLength="14.00" lengthAdjust="spacingAndGlyphs">and</text>
<text x="454.97" y="525.50" font-size="8.72" font-weight="normal" fill="#262626" stroke="#262626" stroke-width="0.22" text-anchor="start" textLength="45.07" lengthAdjust="spacingAndGlyphs">evaporation</text>
<text x="502.11" y="525.50" font-size="8.72" font-weight="normal" fill="#262626" stroke="#262626" stroke-width="0.22" text-anchor="start" textLength="22.21" lengthAdjust="spacingAndGlyphs">losses</text>
<text x="526.40" y="525.50" font-size="8.72" font-weight="normal" fill="#262626" stroke="#262626" stroke-width="0.22" text-anchor="start" textLength="18.12" lengthAdjust="spacingAndGlyphs">from</text>
<text x="546.58" y="525.50" font-size="8.72" font-weight="normal" fill="#262626" stroke="#262626" stroke-width="0.22" text-anchor="start" textLength="16.06" lengthAdjust="spacingAndGlyphs">Vaal</text>
<text x="564.71" y="525.50" font-size="8.72" font-weight="normal" fill="#262626" stroke="#262626" stroke-width="0.22" text-anchor="start" textLength="17.32" lengthAdjust="spacingAndGlyphs">Dam</text>
<text x="584.10" y="525.50" font-size="8.72" font-weight="normal" fill="#262626" stroke="#262626" stroke-width="0.22" text-anchor="start" textLength="12.13" lengthAdjust="spacingAndGlyphs">are</text>
<text x="598.29" y="525.50" font-size="8.72" font-weight="normal" fill="#262626" stroke="#262626" stroke-width="0.22" text-anchor="start" textLength="33.48" lengthAdjust="spacingAndGlyphs">reflected</text>
<text x="633.84" y="525.50" font-size="8.72" font-weight="normal" fill="#262626" stroke="#262626" stroke-width="0.22" text-anchor="start" textLength="6.91" lengthAdjust="spacingAndGlyphs">in</text>
<text x="642.82" y="525.50" font-size="8.72" font-weight="normal" fill="#262626" stroke="#262626" stroke-width="0.22" text-anchor="start" textLength="12.42" lengthAdjust="spacingAndGlyphs">the</text>
<text x="657.31" y="525.50" font-size="8.72" font-weight="normal" fill="#262626" stroke="#262626" stroke-width="0.22" text-anchor="start" textLength="22.70" lengthAdjust="spacingAndGlyphs">above</text>
<text x="682.08" y="525.50" font-size="8.72" font-weight="normal" fill="#262626" stroke="#262626" stroke-width="0.22" text-anchor="start" textLength="18.95" lengthAdjust="spacingAndGlyphs">data.</text>
</svg>
</body></html>
